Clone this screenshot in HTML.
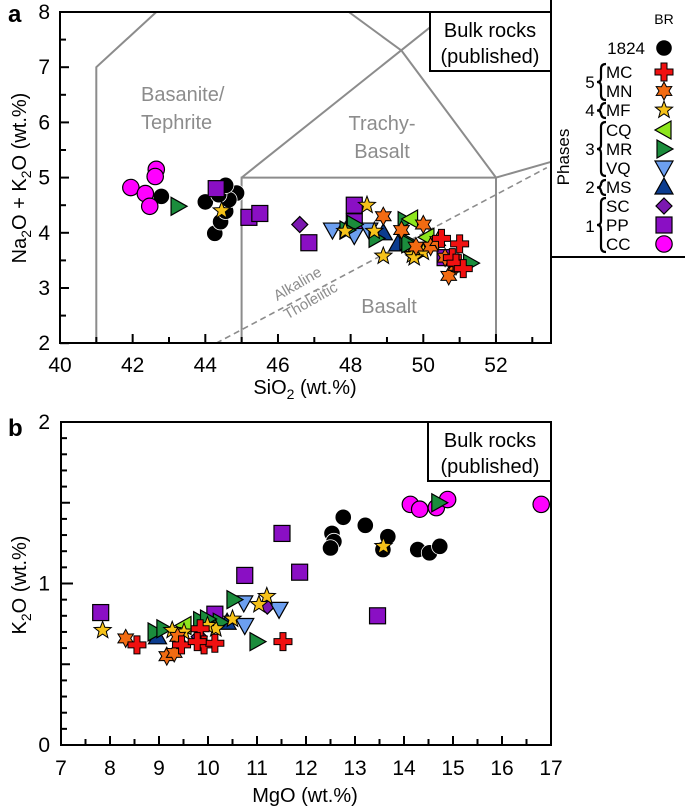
<!DOCTYPE html>
<html><head><meta charset="utf-8"><style>
body{margin:0;background:#fff}
svg{display:block;font-family:"Liberation Sans",Arial,sans-serif}
</style></head><body>
<svg id="c" width="685" height="808" viewBox="0 0 685 808" xmlns="http://www.w3.org/2000/svg"></svg>
<script>
// ---- data panel a (SiO2, Na2O+K2O)
const aBR_x=[42.79,44.0,44.26,44.42,44.56,44.86,44.65,44.37,44.56];
const aBR_y=[4.66,4.56,3.99,4.2,4.39,4.72,4.6,4.69,4.86];
const aCC_x=[41.95,42.65,42.62,42.35,42.47];
const aCC_y=[4.82,5.15,5.02,4.71,4.48];
const aPP_x=[44.3,45.2,45.5,46.85,48.1,48.1,50.6];
const aPP_y=[4.8,4.28,4.35,3.82,4.5,4.2,3.55];
const aSC_x=[46.6];
const aSC_y=[4.15];
const aMS_x=[48.9,49.3];
const aMS_y=[4.0,3.8];
const aVQ_x=[47.5,48.1,48.5];
const aVQ_y=[4.05,3.95,4.05];
const aMR_x=[43.25,48.1,47.9,49.5,49.55,48.7,51.3,49.6];
const aMR_y=[4.48,4.15,4.05,4.22,3.85,3.9,3.45,3.8];
const aCQ_x=[49.65,50.1];
const aCQ_y=[4.25,3.92];
const aMF_x=[44.45,48.45,47.85,48.65,48.9,49.7,50.0,49.75];
const aMF_y=[4.4,4.5,4.03,4.03,3.58,3.6,3.65,3.55];
const aMN_x=[48.9,50.0,49.4,49.8,50.2,50.4,50.6,50.7,50.9];
const aMN_y=[4.3,4.15,4.05,3.75,3.75,3.85,3.55,3.22,3.4];
const aMC_x=[50.5,51.0,50.8,50.9,51.1];
const aMC_y=[3.9,3.8,3.55,3.45,3.35];
// ---- data panel b (MgO, K2O)
const bBR_x=[12.76,13.21,12.53,12.57,12.5,13.57,13.67,14.28,14.52,14.73];
const bBR_y=[1.41,1.36,1.31,1.26,1.22,1.21,1.29,1.21,1.19,1.23];
const bCC_x=[14.13,14.32,14.66,14.89,16.8];
const bCC_y=[1.49,1.46,1.47,1.52,1.49];
const bPP_x=[7.81,11.51,10.75,11.87,13.46,10.14];
const bPP_y=[0.82,1.31,1.05,1.07,0.80,0.81];
const bSC_x=[11.21,9.82];
const bSC_y=[0.86,0.67];
const bMS_x=[8.97,10.39];
const bMS_y=[0.67,0.76];
const bVQ_x=[10.73,11.45,10.75];
const bVQ_y=[0.88,0.84,0.74];
const bMR_x=[8.92,9.1,9.85,10.25,10.53,11.0,14.71,9.99];
const bMR_y=[0.70,0.72,0.77,0.76,0.90,0.64,1.50,0.78];
const bCQ_x=[9.51];
const bCQ_y=[0.74];
const bMF_x=[7.85,11.2,11.04,10.5,10.16,9.99,9.51,9.27,13.58];
const bMF_y=[0.71,0.92,0.87,0.78,0.72,0.74,0.70,0.71,1.23];
const bMN_x=[8.32,9.16,9.31,9.38];
const bMN_y=[0.66,0.55,0.57,0.67];
const bMC_x=[8.55,9.46,9.84,9.92,10.14,11.53,9.78];
const bMC_y=[0.62,0.62,0.72,0.62,0.63,0.64,0.64];
const aXTicks=[40,42,44,46,48,50,52];
const aYTicks=[2,3,4,5,6,7,8];
const bXTicks=[7,8,9,10,11,12,13,14,15,16,17];
const bYTicks=[0,1,2];

const NS="http://www.w3.org/2000/svg";
const svg=document.getElementById('c');
function el(tag,attrs,parent){const e=document.createElementNS(NS,tag);for(const k in attrs)e.setAttribute(k,attrs[k]);(parent||svg).appendChild(e);return e;}
function txt(s,x,y,size,anchor,parent,fill){const t=el('text',{x:x,y:y,'font-size':size,'text-anchor':anchor||'middle',fill:fill||'#000'},parent);t.textContent=s;return t;}

const ax=v=>60+(v-40)*36.33, ay=v=>12+(8-v)*55.2;
const bx=v=>61+(v-7)*49.0, by=v=>745-v*161.5;

function marker(type,cx,cy,g){
  const s='#000',w=1.2;let e;
  if(type==='BR'){e=el('circle',{cx:cx,cy:cy,r:8.2,fill:'#000',stroke:'#fff','stroke-width':0.8},g);}
  else if(type==='CC'){e=el('circle',{cx:cx,cy:cy,r:8.2,fill:'#ff00ff',stroke:s,'stroke-width':w},g);}
  else if(type==='PP'){e=el('rect',{x:cx-8,y:cy-8,width:16,height:16,fill:'#8a0fc4',stroke:s,'stroke-width':w},g);}
  else if(type==='SC'){e=el('polygon',{points:`${cx},${cy-8} ${cx+8},${cy} ${cx},${cy+8} ${cx-8},${cy}`,fill:'#7b18b0',stroke:s,'stroke-width':w},g);}
  else if(type==='MS'){e=el('polygon',{points:`${cx},${cy-9} ${cx+9},${cy+7} ${cx-9},${cy+7}`,fill:'#0b3c8f',stroke:s,'stroke-width':w},g);}
  else if(type==='VQ'){e=el('polygon',{points:`${cx-9},${cy-7} ${cx+9},${cy-7} ${cx},${cy+9}`,fill:'#6c9ff0',stroke:s,'stroke-width':w},g);}
  else if(type==='MR'){e=el('polygon',{points:`${cx-7},${cy-9} ${cx+9},${cy} ${cx-7},${cy+9}`,fill:'#1b8c3c',stroke:s,'stroke-width':w},g);}
  else if(type==='CQ'){e=el('polygon',{points:`${cx+7},${cy-9} ${cx-9},${cy} ${cx+7},${cy+9}`,fill:'#8ee61e',stroke:s,'stroke-width':w},g);}
  else if(type==='MF'){let p=[];for(let i=0;i<10;i++){const r=i%2?3.8:9,a=-Math.PI/2+i*Math.PI/5;p.push((cx+r*Math.cos(a)).toFixed(1)+','+(cy+r*Math.sin(a)).toFixed(1));}
    e=el('polygon',{points:p.join(' '),fill:'#f6c21a',stroke:s,'stroke-width':1},g);}
  else if(type==='MN'){let p=[];for(let i=0;i<12;i++){const r=i%2?5:9,a=-Math.PI/2+i*Math.PI/6;p.push((cx+r*Math.cos(a)).toFixed(1)+','+(cy+r*Math.sin(a)).toFixed(1));}
    e=el('polygon',{points:p.join(' '),fill:'#f26b12',stroke:s,'stroke-width':1},g);}
  else if(type==='MC'){const a=3,b=9;e=el('polygon',{points:`${cx-a},${cy-b} ${cx+a},${cy-b} ${cx+a},${cy-a} ${cx+b},${cy-a} ${cx+b},${cy+a} ${cx+a},${cy+a} ${cx+a},${cy+b} ${cx-a},${cy+b} ${cx-a},${cy+a} ${cx-b},${cy+a} ${cx-b},${cy-a} ${cx-a},${cy-a}`,fill:'#f01010',stroke:s,'stroke-width':1},g);}
  return e;
}
const order=['BR','CC','PP','SC','MS','VQ','MR','CQ','MF','MN','MC'];
const A={BR:[aBR_x,aBR_y],CC:[aCC_x,aCC_y],PP:[aPP_x,aPP_y],SC:[aSC_x,aSC_y],MS:[aMS_x,aMS_y],VQ:[aVQ_x,aVQ_y],MR:[aMR_x,aMR_y],CQ:[aCQ_x,aCQ_y],MF:[aMF_x,aMF_y],MN:[aMN_x,aMN_y],MC:[aMC_x,aMC_y]};
const B={BR:[bBR_x,bBR_y],CC:[bCC_x,bCC_y],PP:[bPP_x,bPP_y],SC:[bSC_x,bSC_y],MS:[bMS_x,bMS_y],VQ:[bVQ_x,bVQ_y],MR:[bMR_x,bMR_y],CQ:[bCQ_x,bCQ_y],MF:[bMF_x,bMF_y],MN:[bMN_x,bMN_y],MC:[bMC_x,bMC_y]};

// ===== panel a =====
const ga=el('g',{});


const cp=el('clipPath',{id:'ca'},ga);
el('rect',{x:60,y:12,width:491,height:331},cp);
const fields=el('g',{'clip-path':'url(#ca)',stroke:'#8c8c8c','stroke-width':2,fill:'none'},ga);


const pl=pts=>pts.map(p=>ax(p[0]).toFixed(1)+','+ay(p[1]).toFixed(1)).join(' ');
el('polyline',{points:pl([[41,2],[41,7],[42.65,8]])},fields);
el('polyline',{points:pl([[45,2],[45,5],[52,5],[52,2]])},fields);
el('polyline',{points:pl([[45,5],[53,9.2]])},fields);
el('polyline',{points:pl([[47.95,8],[49.4,7.3],[52,5],[53.6,5.3]])},fields);
const dl=el('polyline',{points:pl([[44.3,2],[53.4,5.18]]),'stroke-dasharray':'6,4','stroke-width':1.6},fields);


const fl=el('g',{},ga);


txt('Basanite/',141,101,20,'start',fl,'#8c8c8c');
txt('Tephrite',141,129,20,'start',fl,'#8c8c8c');
txt('Trachy-',382,130,20,'middle',fl,'#8c8c8c');
txt('Basalt',382,158,20,'middle',fl,'#8c8c8c');
txt('Basalt',389,313,20,'middle',fl,'#8c8c8c');
const at=txt('Alkaline',0,0,15,'middle',fl,'#8c8c8c');at.setAttribute('transform','translate(300,288) rotate(-30)');
const tt=txt('Tholeiitic',0,0,15,'middle',fl,'#8c8c8c');tt.setAttribute('transform','translate(313,305) rotate(-30)');
const pa=el('g',{},ga);


order.forEach(k=>{const [xs,ys]=A[k];xs.forEach((x,i)=>{const m=marker(k,ax(x),ay(ys[i]),pa);

});});
el('rect',{x:60,y:12,width:491,height:331,fill:'none',stroke:'#000','stroke-width':2},ga);
for(let v=40;v<=53;v+=1){const X=ax(v);const L=(v%2===0)?9:6;el('line',{x1:X,y1:343,x2:X,y2:343-L,stroke:'#000','stroke-width':2},ga);}
aXTicks.forEach(v=>{const t=txt(String(v),ax(v),372,21,'middle',ga);});
for(let v=2;v<=8;v+=0.5){const Y=ay(v);const L=(v%1===0)?9:6;el('line',{x1:60,y1:Y,x2:60+L,y2:Y,stroke:'#000','stroke-width':2},ga);}
aYTicks.forEach(v=>{const t=txt(String(v),50,ay(v)+7,21,'end',ga);});
const xta=el('text',{x:305,y:394,'font-size':20,'text-anchor':'middle'},ga);xta.innerHTML='SiO<tspan font-size="14" dy="5">2</tspan><tspan dy="-5"> (wt.%)</tspan>';

const yta=el('text',{'font-size':20,'text-anchor':'middle',transform:'translate(26,178) rotate(-90)'},ga);
yta.innerHTML='Na<tspan font-size="14" dy="5">2</tspan><tspan dy="-5">O + K</tspan><tspan font-size="14" dy="5">2</tspan><tspan dy="-5">O (wt.%)</tspan>';

const la=txt('a',8,22,24,'start',ga);la.setAttribute('font-weight','bold');
const bba=el('g',{},ga);
el('rect',{x:430,y:12,width:121,height:59,fill:'#fff',stroke:'#000','stroke-width':2},bba);
txt('Bulk rocks',490,37,20,'middle',bba);txt('(published)',490,63,20,'middle',bba);

// legend
const lg=el('g',{},svg);


el('rect',{x:551,y:-2,width:136,height:259,fill:'#fff',stroke:'#000','stroke-width':2},lg);
txt('BR',664,24,14,'middle',lg);
const rows=[['BR','1824',48],['MC','MC',72],['MN','MN',91],['MF','MF',110],['CQ','CQ',130],['MR','MR',149],['VQ','VQ',168],['MS','MS',187],['SC','SC',206],['PP','PP',225],['CC','CC',244]];
rows.forEach(r=>{const g=el('g',{},lg);
 txt(r[1],r[0]==='BR'?645:606,r[2]+6,17,r[0]==='BR'?'end':'start',g);marker(r[0],664,r[2],g);});
const ph=txt('Phases',0,0,17,'middle',lg);ph.setAttribute('transform','translate(569,157) rotate(-90)');
function brace(x,y1,y2){const m=(y1+y2)/2;el('path',{d:`M${x+5},${y1} Q${x},${y1} ${x},${y1+5} L${x},${m-4} Q${x},${m} ${x-4},${m} Q${x},${m} ${x},${m+4} L${x},${y2-5} Q${x},${y2} ${x+5},${y2}`,fill:'none',stroke:'#000','stroke-width':2.2},lg);}
brace(601,64,100);brace(601,103,118);brace(601,122,176);brace(601,180,195);brace(601,198,252);
txt('5',590,88,17,'middle',lg);txt('4',590,116,17,'middle',lg);txt('3',590,155,17,'middle',lg);txt('2',590,193,17,'middle',lg);txt('1',590,232,17,'middle',lg);

// ===== panel b =====
const gb=el('g',{});


const pb=el('g',{},gb);


order.forEach(k=>{const [xs,ys]=B[k];xs.forEach((x,i)=>{const m=marker(k,bx(x),by(ys[i]),pb);

});});
el('rect',{x:61,y:422,width:490,height:323,fill:'none',stroke:'#000','stroke-width':2},gb);
for(let v=7;v<=17;v+=0.5){const X=bx(v);const L=(v%1===0)?9:6;el('line',{x1:X,y1:745,x2:X,y2:745-L,stroke:'#000','stroke-width':2},gb);}
bXTicks.forEach(v=>{const t=txt(String(v),bx(v),775,21,'middle',gb);});
for(let i=0;i<=20;i++){const v=i/10;const Y=by(v);const L=(i%10===0)?12:(i%5===0?9:6);el('line',{x1:61,y1:Y,x2:61+L,y2:Y,stroke:'#000','stroke-width':2},gb);}
bYTicks.forEach(v=>{const t=txt(String(v),50,by(v)+7,21,'end',gb);});
const xtb=txt('MgO (wt.%)',305,802,20,'middle',gb);
const ytb=el('text',{'font-size':20,'text-anchor':'middle',transform:'translate(26,585) rotate(-90)'},gb);
ytb.innerHTML='K<tspan font-size="14" dy="5">2</tspan><tspan dy="-5">O (wt.%)</tspan>';

const lb=txt('b',8,436,24,'start',gb);lb.setAttribute('font-weight','bold');
const bbb=el('g',{},gb);
el('rect',{x:428,y:422,width:123,height:59,fill:'#fff',stroke:'#000','stroke-width':2},bbb);
txt('Bulk rocks',490,447,20,'middle',bbb);txt('(published)',490,473,20,'middle',bbb);
</script>
</body></html>
